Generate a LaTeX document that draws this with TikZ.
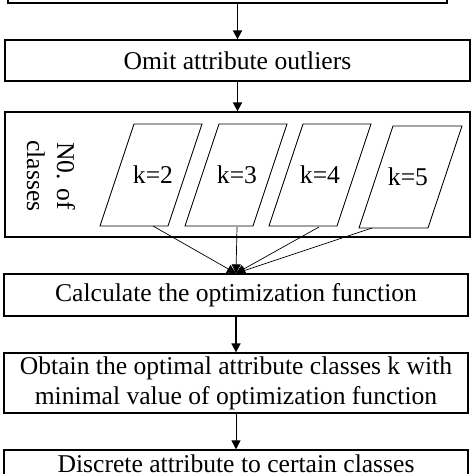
\documentclass[tikz,border=0pt]{standalone}
\usepackage{fontspec}
\setmainfont{Liberation Serif}
\usetikzlibrary{arrows.meta}

\begin{document}
\begin{tikzpicture}[
            x = 1pt, y = -1pt, % one unit per pixel, y pointing down
            > = {Triangle[length=9pt, width=9pt]}, % arrow head style
            font = \fontsize{25.6}{30}\selectfont,
            line width = 1.3pt % line style
        ]

        \tikzstyle{proc}=[
            draw = black,
            inner sep = 0pt,
            minimum width = 464pt,
            align = center
        ]
        \tikzstyle{klabel}=[
            inner sep = 0pt
        ]
        \tikzstyle{kline}=[
            draw = black,
            line width = 0.9pt
        ]

        \useasboundingbox (0,0) rectangle (474,474);
        \clip (0,0) rectangle (474,474);

        \node[proc, minimum width=439pt, minimum height=46pt] (top) at (227.5,-20) {};
        \node[proc, minimum width=465pt, minimum height=41pt] (omit) at (237.5,60.5) {Omit attribute outliers};

        % number of classes
        \node[proc, minimum width=465pt, minimum height=125pt] (grp) at (237.5,174.5) {};
        \node[rotate=-90, align=center] (lbl) at (51,176) {N0. of\\classes};
        \node[klabel] (k2) at (153,175) {k=2};
        \node[klabel] (k3) at (237,175) {k=3};
        \node[klabel] (k4) at (320,175) {k=4};
        \node[klabel] (k5) at (408,177) {k=5};
        \path[kline] (k2.center) ++(-53,51) -- ++(68,0) -- ++(34,-102) -- ++(-68,0) -- cycle;
        \path[kline] (k3.center) ++(-52,51) -- ++(68,0) -- ++(34,-102) -- ++(-68,0) -- cycle;
        \path[kline] (k4.center) ++(-51,51) -- ++(68,0) -- ++(34,-102) -- ++(-68,0) -- cycle;
        \path[kline] (k5.center) ++(-49,51) -- ++(69,0) -- ++(34,-102) -- ++(-69,0) -- cycle;

        \node[proc, minimum height=42pt] (calc) at (236,295) {Calculate the optimization function};
        \node[proc, minimum height=60pt] (best) at (236,383) {Obtain the optimal attribute classes k with\\minimal value of optimization function};
        \node[proc, minimum height=28pt] (disc) at (236,464) {Discrete attribute to certain classes};

        \draw[->, line width=1.7pt] (top.south -| omit.north) -- (omit.north);
        \draw[->, line width=1.7pt] (omit.south -| grp.north) -- (grp.north);

        \draw[->, line width=0.7pt] ([shift={(0,51)}]k2.center) -- (calc.north);
        \draw[->, line width=0.7pt] ([shift={(0,52)}]k3.center) -- (calc.north);
        \draw[->, line width=0.7pt] ([shift={(-1,52)}]k4.center) -- (calc.north);
        \draw[->, line width=0.7pt] ([shift={(-36,51)}]k5.center) -- (calc.north);

        \draw[->, line width=1.7pt] (calc.south -| best.north) -- (best.north);
        \draw[->, line width=0.8pt] (best.south) -- (disc.north);
\end{tikzpicture}
\end{document}
